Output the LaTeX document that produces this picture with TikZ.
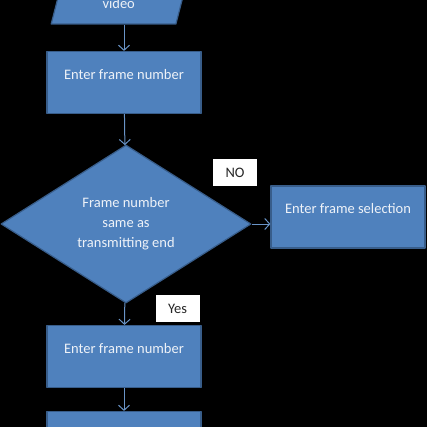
\documentclass[tikz,border=0pt]{standalone}
\usepackage{fontspec}
\setmainfont{Carlito}
\usetikzlibrary{shapes.geometric,arrows.meta}
\definecolor{ofblue}{HTML}{4F81BD}
\definecolor{ofedge}{HTML}{385D8A}
\definecolor{oftext}{HTML}{EEF2F8}
\tikzset{
	proc/.style={rectangle,fill=ofblue,draw=ofedge,line width=1.2pt,text=oftext,minimum width=154pt,minimum height=62pt,text height=10pt,text depth=16pt,inner sep=0pt},
	decide/.style={diamond,fill=ofblue,draw=ofedge,line width=1.2pt,text=oftext,minimum width=250pt,minimum height=158pt,inner sep=0pt,align=center},
	iobox/.style={trapezium,trapezium left angle=74,trapezium right angle=106,trapezium stretches=true,fill=ofblue,draw=ofedge,line width=1.2pt,text=oftext,minimum width=135.5pt,minimum height=40pt,inner sep=0pt},
	tag/.style={rectangle,fill=white,text=black!85,minimum width=44pt,minimum height=27pt,inner sep=0pt},
	arr/.style={->,draw=ofblue!85!white,line width=1pt}
}
\begin{document}
\begin{tikzpicture}[x=1pt,y=-1pt,>={Straight Barb[length=5pt,width=11pt]},line join=round,font=\fontsize{14.5}{20}\selectfont]
			\useasboundingbox (0,0) rectangle (427,427);
			\clip (0,0) rectangle (427,427);
			\fill[black] (0,0) rectangle (427,427);
			\node[iobox] (vid) at (118.7,4) {video};
			\node[proc] (enter1) at (124,82.5) {Enter frame number};
			\node[decide] (same) at (126,224) {Frame number\\same as\\transmitting end};
			\node[proc] (sel) at (348,217) {Enter frame selection};
			\node[proc] (enter2) at (124,356.5) {Enter frame number};
			\node[proc] (next) at (124,442.5) {};
			\node[tag] (no) at (235,172.5) {NO};
			\node[tag] (yes) at (177.5,308.5) {Yes};
			\draw[arr] (vid.south -| enter1.north) -- (enter1);
			\draw[arr] (enter1) -- (same);
			\draw[arr] (same.east) -- (same.east -| sel.west);
			\draw[arr] (same) -- (enter2);
			\draw[arr] (enter2) -- (next);
		\end{tikzpicture}
\end{document}
